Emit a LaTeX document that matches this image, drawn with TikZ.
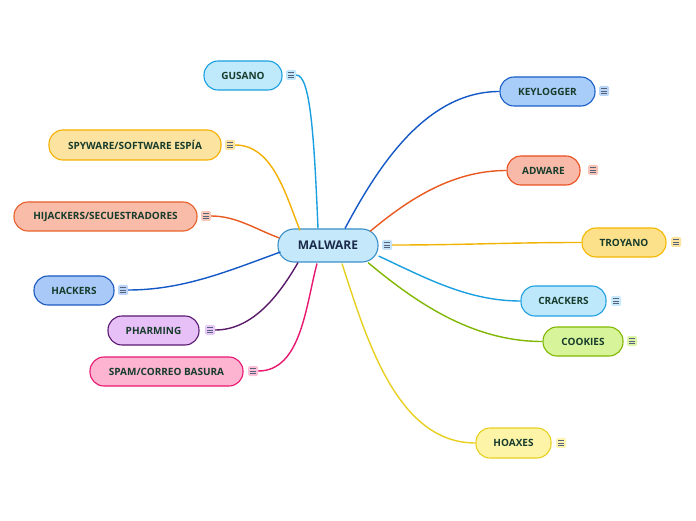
\documentclass[tikz,border=0pt]{standalone}
\usepackage{fontspec}
\setmainfont{Open Sans}
\usetikzlibrary{calc}
\definecolor{txt}{HTML}{173C2C}
\definecolor{mtxt}{HTML}{1B2A4A}
\definecolor{icl}{HTML}{56627A}
% borders / fills / icons / lines
\definecolor{Mb}{HTML}{3A8FC8}\definecolor{Mf}{HTML}{C5E8FB}\definecolor{Mi}{HTML}{C5E3F8}
\definecolor{Gb}{HTML}{1AA0E0}\definecolor{Gf}{HTML}{BFEAFC}\definecolor{Gi}{HTML}{BFE6FA}\definecolor{Gl}{HTML}{1A9FE0}
\definecolor{Sb}{HTML}{F5B000}\definecolor{Sf}{HTML}{FDE3A0}\definecolor{Si}{HTML}{FDE3A0}\definecolor{Sl}{HTML}{F4B000}
\definecolor{Hb}{HTML}{E8602A}\definecolor{Hf}{HTML}{F8BCA8}\definecolor{Hi}{HTML}{F8C8B8}\definecolor{Hl}{HTML}{E85A20}
\definecolor{Kb}{HTML}{1A5AC0}\definecolor{Kf}{HTML}{A9C9F8}\definecolor{Ki}{HTML}{B9D4F8}\definecolor{Kl}{HTML}{1458C8}
\definecolor{Pb}{HTML}{5A1A70}\definecolor{Pf}{HTML}{E8C0F8}\definecolor{Pi}{HTML}{E8C8F8}\definecolor{Pl}{HTML}{5A1A6A}
\definecolor{Bb}{HTML}{E81870}\definecolor{Bf}{HTML}{FCB4D0}\definecolor{Bi}{HTML}{FCC0D8}\definecolor{Bl}{HTML}{E81870}
\definecolor{Lb}{HTML}{1A5FC8}\definecolor{Lf}{HTML}{A9CDF9}\definecolor{Li}{HTML}{B9D6F9}\definecolor{Ll}{HTML}{1458C8}
\definecolor{Ab}{HTML}{E85020}\definecolor{Af}{HTML}{F8B9A8}\definecolor{Ai}{HTML}{F8C4B6}\definecolor{Al}{HTML}{E85A20}
\definecolor{Tb}{HTML}{F5B800}\definecolor{Tf}{HTML}{FDE08A}\definecolor{Ti}{HTML}{FDE3A0}\definecolor{Tl}{HTML}{F0B400}
\definecolor{Cb}{HTML}{20A0E0}\definecolor{Cf}{HTML}{BDE8FB}\definecolor{Ci}{HTML}{C8EAFA}\definecolor{Cl}{HTML}{1A9FE0}
\definecolor{Ob}{HTML}{80B800}\definecolor{Of}{HTML}{D8F49A}\definecolor{Oi}{HTML}{DDF4A8}\definecolor{Ol}{HTML}{80B800}
\definecolor{Xb}{HTML}{E8D020}\definecolor{Xf}{HTML}{FDF4A8}\definecolor{Xi}{HTML}{FDF4B0}\definecolor{Xl}{HTML}{E8D020}
\tikzset{
  x=1pt,y=1pt,
  topic/.style 2 args={draw=#1,fill=#2,line width=1.1pt,rounded corners=14pt,
     minimum height=29pt,inner sep=0pt,font=\bfseries\fontsize{10}{12}\selectfont,text=txt},
  ico/.style={fill=#1,minimum size=10pt,inner sep=0pt,rounded corners=1.5pt,
     path picture={
       \draw[icl,line width=0.8pt]
         ($(path picture bounding box.center)+(-2.8,2.3)$) -- ++(5.6,0)
         ($(path picture bounding box.center)+(-2.8,0)$) -- ++(5.6,0)
         ($(path picture bounding box.center)+(-2.8,-2.3)$) -- ++(5.6,0);}},
  link/.style={draw=#1,line width=1.4pt},
}
\begin{document}
\begin{tikzpicture}
\useasboundingbox (0,0) rectangle (696,520);
\fill[white] (0,0) rectangle (696,520);
% central
\node[topic={Mb}{Mf},minimum width=100pt,minimum height=33pt,rounded corners=16pt,font=\bfseries\fontsize{12}{14}\selectfont,text=mtxt] (M) at (328,274.5) {MALWARE};
\node[ico=Mi] (iM) at (387,275) {};
% left
\node[topic={Gb}{Gf},minimum width=78pt] (G) at (243,444.5) {GUSANO};
\node[ico=Gi] (iG) at (291,445) {};
\node[topic={Sb}{Sf},minimum width=172pt,minimum height=30pt] (S) at (135,375) {SPYWARE/SOFTWARE ESPÍA};
\node[ico=Si] (iS) at (230,375) {};
\node[topic={Hb}{Hf},minimum width=183pt] (H) at (105.5,303.5) {HIJACKERS/SECUESTRADORES};
\node[ico=Hi] (iH) at (206,304) {};
\node[topic={Kb}{Kf},minimum width=80pt] (K) at (74,229.5) {HACKERS};
\node[ico=Ki] (iK) at (123,230) {};
\node[topic={Pb}{Pf},minimum width=91pt] (P) at (153.5,189.5) {PHARMING};
\node[ico=Pi] (iP) at (210,190) {};
\node[topic={Bb}{Bf},minimum width=153pt] (B) at (166.5,148.5) {SPAM/CORREO BASURA};
\node[ico=Bi] (iB) at (253,149) {};
% right
\node[topic={Lb}{Lf},minimum width=95pt] (L) at (547.5,428.5) {KEYLOGGER};
\node[ico=Li] (iL) at (604,429) {};
\node[topic={Ab}{Af},minimum width=73pt] (A) at (543.5,349.5) {ADWARE};
\node[ico=Ai] (iA) at (593,350) {};
\node[topic={Tb}{Tf},minimum width=84pt] (T) at (624,277.5) {TROYANO};
\node[ico=Ti] (iT) at (676,278) {};
\node[topic={Cb}{Cf},minimum width=85pt,minimum height=30pt] (C) at (563.5,219) {CRACKERS};
\node[ico=Ci] (iC) at (616,219) {};
\node[topic={Ob}{Of},minimum width=80pt] (O) at (583,178.5) {COOKIES};
\node[ico=Oi] (iO) at (632,179) {};
\node[topic={Xb}{Xf},minimum width=75pt,minimum height=30pt] (X) at (513.5,77) {HOAXES};
\node[ico=Xi] (iX) at (561,77) {};
% attachment points on the central topic
\coordinate (mG) at ($(M.north)+(-10,0)$);
\coordinate (mL) at ($(M.north)+(17,0)$);
\coordinate (mS) at ($(M.north)+(-28,-2)$);
\coordinate (mA) at ($(M.north)+(42,-3)$);
\coordinate (mH) at ($(M.west)+(2,7.5)$);
\coordinate (mK) at ($(M.west)+(3,-6.5)$);
\coordinate (mC) at ($(M.east)+(0,-10.5)$);
\coordinate (mP) at ($(M.south)+(-30,0)$);
\coordinate (mO) at ($(M.south)+(40,0)$);
\coordinate (mB) at ($(M.south)+(-11,-1)$);
\coordinate (mX) at ($(M.south)+(14,-1)$);
% connectors
\draw[link=Gl] (iG.east) .. controls +(14,0) and +(-4,95) .. (mG);
\draw[link=Sl] (iS.east) to[out=0,in=112,looseness=0.9] (mS);
\draw[link=Hl] (iH.east) to[out=0,in=160,looseness=0.9] (mH);
\draw[link=Kl] (iK.east) to[out=0,in=200,looseness=0.9] (mK);
\draw[link=Pl] (iP.east) to[out=0,in=240,looseness=0.9] (mP);
\draw[link=Bl] (iB.east) to[out=0,in=255,looseness=0.9] (mB);
\draw[link=Ll] (mL) to[out=62,in=180,looseness=0.9] (L.west);
\draw[link=Al] (mA) to[out=40,in=180,looseness=0.9] (A.west);
\draw[link=Tl] (iM.east) to[out=0,in=180] (T.west);
\draw[link=Cl] (mC) to[out=-25,in=180,looseness=0.9] (C.west);
\draw[link=Ol] (mO) to[out=-40,in=180,looseness=0.9] (O.west);
\draw[link=Xl] (mX) to[out=-72,in=180,looseness=0.9] (X.west);
\end{tikzpicture}
\end{document}
